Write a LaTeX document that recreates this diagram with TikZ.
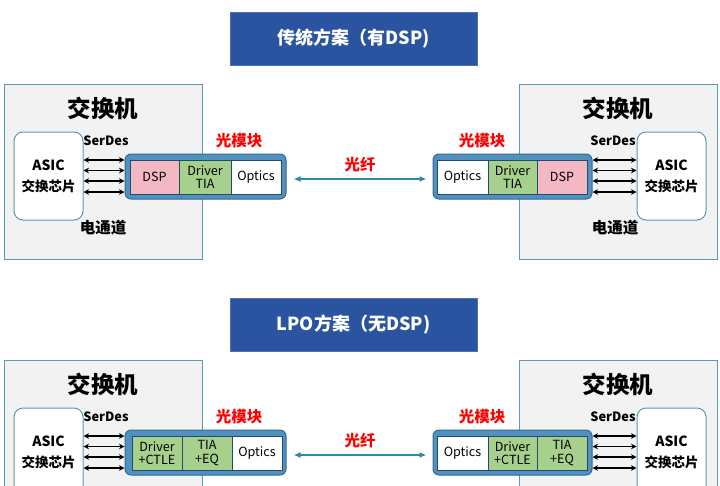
\documentclass[tikz,border=0pt]{standalone}
\usepackage{fontspec}
\setmainfont{Noto Sans CJK SC}
\usetikzlibrary{arrows.meta}
\definecolor{titleblue}{HTML}{2B54A0}
\definecolor{titleline}{HTML}{4A72C0}
\definecolor{swfill}{HTML}{F2F2F2}
\definecolor{swline}{HTML}{5A9BB4}
\definecolor{modfill}{HTML}{5290C0}
\definecolor{modline}{HTML}{2F6B97}
\definecolor{dspfill}{HTML}{F4B8C3}
\definecolor{drvfill}{HTML}{A8D08D}
\definecolor{fiber}{HTML}{2F87A6}
\tikzset{
  titlebox/.style={fill=titleblue, draw=titleline, line width=0.8pt, text=white,
    font=\bfseries\fontsize{18}{20}\selectfont, minimum width=247pt, minimum height=53pt, inner sep=0pt},
  switchbox/.style={fill=swfill, draw=swline, line width=1pt, minimum width=198pt, minimum height=175pt, inner sep=0pt},
  swtitle/.style={font=\bfseries\fontsize{23.5}{26}\selectfont},
  asicbox/.style={fill=white, draw=swline, line width=1pt, rounded corners=9pt, minimum width=69pt,
    minimum height=88pt, inner sep=0pt, align=center, font=\bfseries\fontsize{13.5}{21}\selectfont},
  lbl/.style={font=\bfseries\fontsize{12.8}{14}\selectfont, inner sep=1pt},
  redlbl/.style={font=\bfseries\fontsize{15.5}{17}\selectfont, text=red, inner sep=1pt},
  modbox/.style={fill=modfill, draw=modline, line width=1pt, rounded corners=6pt, minimum height=45pt, inner sep=0pt},
  cellbox/.style={draw=modline!70!black, line width=0.6pt, minimum height=34pt, inner sep=0pt,
    align=center, font=\fontsize{12.6}{13.5}\selectfont},
  serarrow/.style={line width=1.3pt, {Stealth[length=5.5pt,width=5.5pt]}-{Stealth[length=5.5pt,width=5.5pt]}},
  fiberarrow/.style={draw=fiber, line width=1.5pt, {Latex[length=7pt,width=6pt]}-{Latex[length=7pt,width=6pt]}}
}
\newcommand\drawhalf[1]{%
  \node[switchbox] (#1sL) at (103,171.5) {};
  \node[switchbox] (#1sR) at (618,171.5) {};
  \node[swtitle] (#1tL) at (103,108) {交换机};
  \node[swtitle] (#1tR) at (618,108) {交换机};
  \node[asicbox] (#1aL) at (48.5,176) {{\fontsize{14}{21}\selectfont ASIC}\\交换芯片};
  \node[asicbox] (#1aR) at (671.5,176) {{\fontsize{14}{21}\selectfont ASIC}\\交换芯片};
  \node[lbl] (#1sdL) at (106,141) {SerDes};
  \node[lbl] (#1sdR) at (613,141) {SerDes};
  \node[modbox, minimum width=161pt] (#1mL) at (205.5,176.5) {};
  \node[modbox, minimum width=159pt] (#1mR) at (512.5,176.5) {};
  \node[redlbl] (#1gL) at (239,141) {光模块};
  \node[redlbl] (#1gR) at (482,141) {光模块};
  \node[redlbl] (#1fb) at (360,165) {光纤};
  \foreach \yy in {160,170.5,181,192} {
    \draw[serarrow] (#1aL.east |- 0,\yy) -- (#1mL.west |- 0,\yy);
    \draw[serarrow] (#1mR.east |- 0,\yy) -- (#1aR.west |- 0,\yy);
  }
  \draw[fiberarrow] ([xshift=7pt]#1mL.east |- 0,179) -- ([xshift=-6pt]#1mR.west |- 0,179);
}
\begin{document}
\begin{tikzpicture}[x=1pt,y=-1pt]
\useasboundingbox (0,0) rectangle (720,485);
\clip (0,0) rectangle (720,485);
\fill[white] (0,0) rectangle (720,485);

\node[titlebox] (t1) at (353.5,38.5) {传统方案（有DSP)};
\node[titlebox] (t2) at (353.5,324.5) {LPO方案（无DSP)};

% top: traditional with DSP
\drawhalf{t}
\node[redlbl, text=black] (tchL) at (103,228) {电通道};
\node[redlbl, text=black] (tchR) at (615,228) {电通道};
\node[cellbox, fill=dspfill, minimum width=49pt] (tc1) at (154.5,177) {DSP};
\node[cellbox, fill=drvfill, minimum width=52pt] (tc2) at (205,177) {Driver\\TIA};
\node[cellbox, fill=white, minimum width=50pt] (tc3) at (256,177) {Optics};
\node[cellbox, fill=white, minimum width=51pt] (tc4) at (462.5,177) {Optics};
\node[cellbox, fill=drvfill, minimum width=49pt] (tc5) at (512.5,177) {Driver\\TIA};
\node[cellbox, fill=dspfill, minimum width=50pt] (tc6) at (562,177) {DSP};

% bottom: LPO without DSP
\begin{scope}[yshift=-276pt]
\drawhalf{b}
\node[cellbox, fill=drvfill, minimum width=50pt] (bc1) at (157,177) {Driver\\+CTLE};
\node[cellbox, fill=drvfill, minimum width=50pt] (bc2) at (207,177) {TIA\\+EQ};
\node[cellbox, fill=white, minimum width=50pt] (bc3) at (257,177) {Optics};
\node[cellbox, fill=white, minimum width=51pt] (bc4) at (462.5,177) {Optics};
\node[cellbox, fill=drvfill, minimum width=49pt] (bc5) at (512.5,177) {Driver\\+CTLE};
\node[cellbox, fill=drvfill, minimum width=50pt] (bc6) at (562,177) {TIA\\+EQ};
\end{scope}
\end{tikzpicture}
\end{document}
